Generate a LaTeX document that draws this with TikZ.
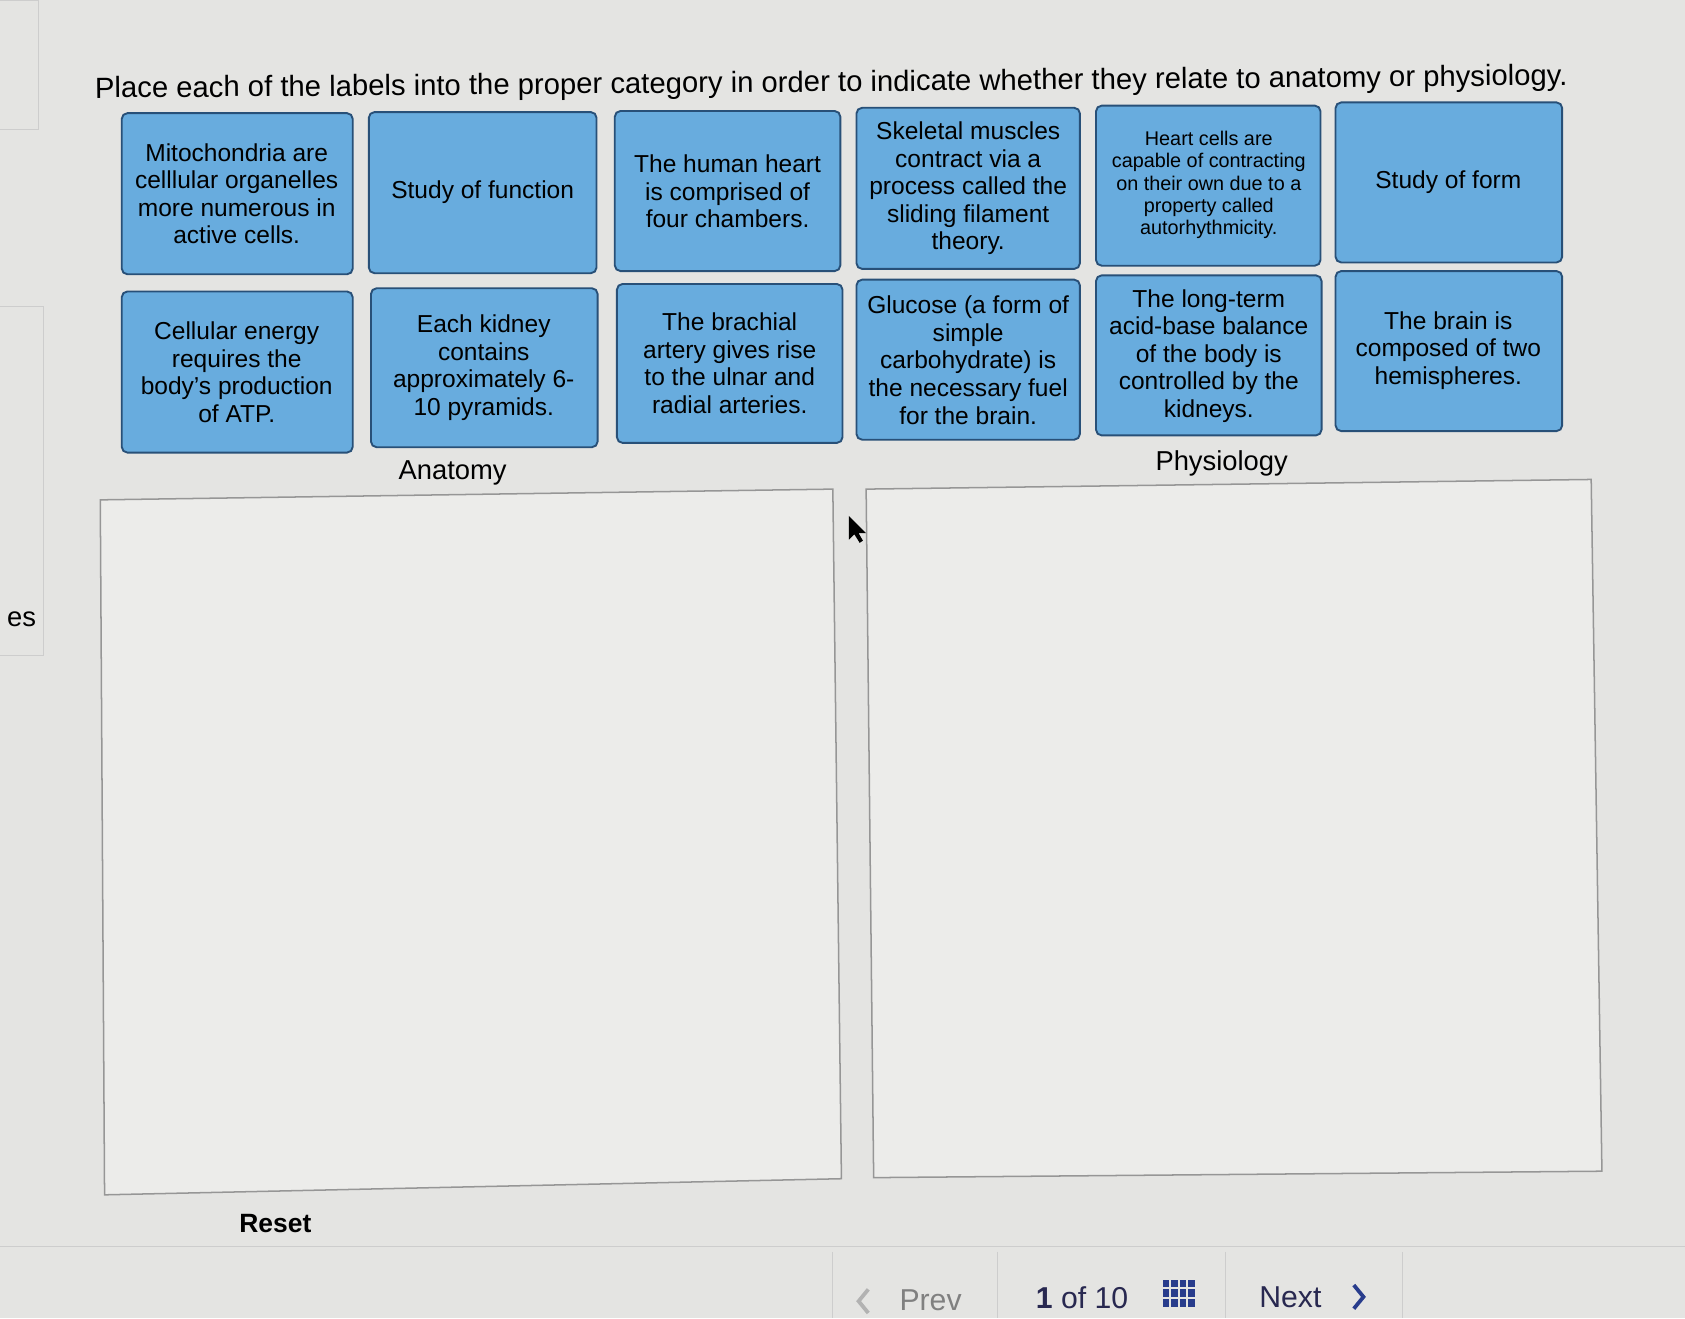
\documentclass[tikz,border=0pt]{standalone}
\usepackage{fontspec}
\setmainfont{Liberation Sans}
\definecolor{bg}{RGB}{228,228,226}
\definecolor{cardfill}{RGB}{104,172,222}
\definecolor{carddraw}{RGB}{40,80,120}
\definecolor{zonefill}{RGB}{236,236,234}
\definecolor{zonedraw}{RGB}{150,150,150}
\definecolor{sep}{RGB}{205,205,205}
\definecolor{navy}{RGB}{40,60,140}
\definecolor{navtext}{RGB}{40,40,80}
\begin{document}
\begin{tikzpicture}[x=0.02cm,y=-0.02cm,
  cardbox/.style={draw=carddraw,line width=1pt,rounded corners=3pt,fill=cardfill},
  cardtxt/.style={align=center,font=\fontsize{13}{14.6}\selectfont,inner sep=1pt},
  zone/.style={draw=zonedraw,line width=0.8pt,fill=zonefill},
  lab/.style={font=\fontsize{14.5}{16}\selectfont}]
\fill[bg] (0,0) rectangle (1568,1227);
\draw[sep] (0,0) -- (35,0) -- (35,120) -- (0,120);
\draw[sep] (0,285) -- (40,285) -- (40,610) -- (0,610);
\node[lab,anchor=west] (es) at (0,576) {es};
\node[font=\fontsize{15.5}{18}\selectfont,anchor=west,rotate=0.5] (title) at (82,84) {Place each of the labels into the proper category in order to indicate whether they relate to anatomy or physiology.};
% row 1
\path[cardbox] (113,105) rectangle (328,255); \node[cardtxt] (c1) at (220,180) {Mitochondria are\\celllular organelles\\more numerous in\\active cells.};
\path[cardbox] (343,104) rectangle (555,254); \node[cardtxt] (c2) at (449,179) {Study of function};
\path[cardbox] (572,103) rectangle (782,252); \node[cardtxt] (c3) at (677,178) {The human heart\\is comprised of\\four chambers.};
\path[cardbox] (797,100) rectangle (1005,250); \node[cardtxt] (c4) at (901,175) {Skeletal muscles\\contract via a\\process called the\\sliding filament\\theory.};
\path[cardbox] (1020,98) rectangle (1229,247); \node[cardtxt,font=\fontsize{10.5}{11.8}\selectfont] (c5) at (1125,172) {Heart cells are\\capable of contracting\\on their own due to a\\property called\\autorhythmicity.};
\path[cardbox] (1243,95) rectangle (1454,244); \node[cardtxt] (c6) at (1348,169) {Study of form};
% row 2
\path[cardbox] (113,271) rectangle (328,421); \node[cardtxt] (d1) at (220,346) {Cellular energy\\requires the\\body's production\\of ATP.};
\path[cardbox] (345,268) rectangle (556,416); \node[cardtxt] (d2) at (450,342) {Each kidney\\contains\\approximately 6-\\10 pyramids.};
\path[cardbox] (574,264) rectangle (784,412); \node[cardtxt] (d3) at (679,338) {The brachial\\artery gives rise\\to the ulnar and\\radial arteries.};
\path[cardbox] (797,260) rectangle (1005,409); \node[cardtxt] (d4) at (901,335) {Glucose (a form of\\simple\\carbohydrate) is\\the necessary fuel\\for the brain.};
\path[cardbox] (1020,256) rectangle (1230,405); \node[cardtxt] (d5) at (1125,331) {The long-term\\acid-base balance\\of the body is\\controlled by the\\kidneys.};
\path[cardbox] (1243,252) rectangle (1454,401); \node[cardtxt] (d6) at (1348,326) {The brain is\\composed of two\\hemispheres.};
% zones
\node[lab] (anat) at (421,440) {Anatomy};
\node[lab] (phys) at (1137,431) {Physiology};
\draw[zone] (93,465) -- (775,455) -- (783,1097) -- (97,1112) -- cycle;
\draw[zone] (806,455) -- (1481,446) -- (1491,1090) -- (813,1096) -- cycle;
\node[font=\bfseries\fontsize{14}{16}\selectfont] (reset) at (256,1139) {Reset};
% bottom bar
\draw[sep] (0,1160) -- (1568,1160);
\draw[sep] (775,1165) -- (775,1227);
\draw[sep] (928,1165) -- (928,1227);
\draw[sep] (1140,1165) -- (1140,1227);
\draw[sep] (1305,1165) -- (1305,1227);
\node[lab,font=\fontsize{16}{18}\selectfont,text=gray] (prev) at (866,1210) {Prev};
\draw[gray!60,line width=2pt] (808,1200) -- (799,1211) -- (808,1222);
\node[lab,font=\fontsize{16}{18}\selectfont,text=navtext] (pg) at (1007,1208) {\textbf{1} of 10};
\foreach \i in {0,1,2,3} \foreach \j in {0,1,2}
  \fill[navy] (1082+\i*8,1191+\j*9) rectangle +(6,7);
\node[lab,font=\fontsize{16}{18}\selectfont,text=navtext] (next) at (1201,1207) {Next};
\draw[navy,line width=2pt] (1260,1196) -- (1269,1207) -- (1260,1218);
\fill[black] (790,480) -- (790,502) -- (795,497) -- (800,505) -- (803,503) -- (799,496) -- (806,496) -- cycle;
\end{tikzpicture}
\end{document}
